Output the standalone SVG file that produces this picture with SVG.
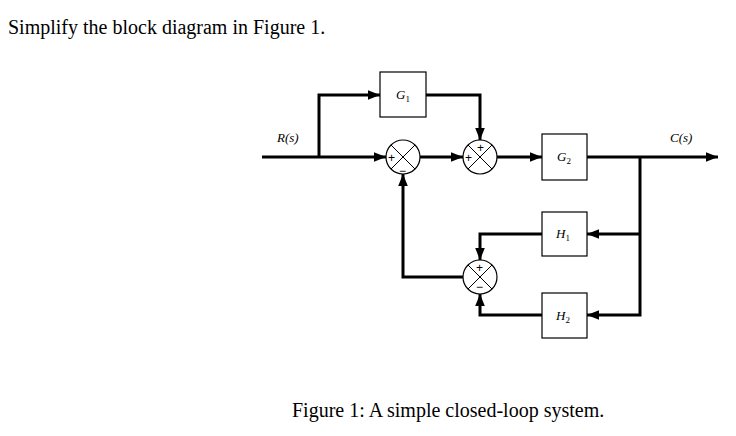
<svg xmlns="http://www.w3.org/2000/svg" width="736" height="436" viewBox="0 0 736 436">
<style>
.w{fill:none;stroke:#000;stroke-width:3}
.b{fill:#fff;stroke:#000;stroke-width:1.2}
.s{fill:#fff;stroke:#000;stroke-width:1.2}
.x{stroke:#000;stroke-width:1}
.t{font-family:"Liberation Serif",serif;fill:#000}
.l{font-family:"Liberation Serif",serif;font-style:italic;font-size:13px}
.p{font-family:"Liberation Sans",sans-serif;font-size:12px}
</style>
<defs><marker id="a" viewBox="0 0 10 10" refX="10" refY="5" markerWidth="5" markerHeight="4" orient="auto" markerUnits="strokeWidth"><path d="M0,1 L10,5 L0,9 Z"/></marker></defs>
<rect width="736" height="436" fill="#fff"/>
<text class="t" x="8" y="34" font-size="20">Simplify the block diagram in Figure 1.</text>
<text class="t" x="292" y="417" font-size="20">Figure 1: A simple closed-loop system.</text>
<g id="connectors">
<path class="w" d="M262,157 H386" marker-end="url(#a)"/>
<path class="w" d="M319,157 V95 H380" marker-end="url(#a)"/>
<path class="w" d="M426,95 H480 V140" marker-end="url(#a)"/>
<path class="w" d="M420,157 H463" marker-end="url(#a)"/>
<path class="w" d="M497,157 H542" marker-end="url(#a)"/>
<path class="w" d="M587,157 H718" marker-end="url(#a)"/>
<path class="w" d="M640,157 V315 H587" marker-end="url(#a)"/>
<path class="w" d="M640,234 H587" marker-end="url(#a)"/>
<path class="w" d="M542,234 H480 V260" marker-end="url(#a)"/>
<path class="w" d="M542,315 H480 V294" marker-end="url(#a)"/>
<path class="w" d="M463,277 H403 V174" marker-end="url(#a)"/>
</g>
<text class="l" x="277" y="142">R(s)</text>
<text class="l" x="670" y="142">C(s)</text>
<g id="G1"><rect class="b" x="380" y="72" width="46" height="45"/><text class="l" x="396" y="99">G<tspan font-size="9" font-style="normal" dy="3">1</tspan></text></g>
<g id="G2"><rect class="b" x="542" y="134" width="45" height="46"/><text class="l" x="557" y="161">G<tspan font-size="9" font-style="normal" dy="3">2</tspan></text></g>
<g id="H1"><rect class="b" x="542" y="212" width="45" height="44"/><text class="l" x="556" y="238">H<tspan font-size="9" font-style="normal" dy="3">1</tspan></text></g>
<g id="H2"><rect class="b" x="542" y="293" width="45" height="45"/><text class="l" x="556" y="320">H<tspan font-size="9" font-style="normal" dy="3">2</tspan></text></g>
<g id="sum1"><circle class="s" cx="403" cy="157" r="17"/><path class="x" d="M391,145 L415,169 M415,145 L391,169"/><text class="p" x="388" y="162">+</text><text class="p" x="399" y="175">−</text></g>
<g id="sum2"><circle class="s" cx="480" cy="157" r="17"/><path class="x" d="M468,145 L492,169 M492,145 L468,169"/><text class="p" x="465" y="162">+</text><text class="p" x="477" y="152">+</text></g>
<g id="sum3"><circle class="s" cx="480" cy="277" r="17"/><path class="x" d="M468,265 L492,289 M492,265 L468,289"/><text class="p" x="476" y="272">+</text><text class="p" x="476" y="291">−</text></g>
</svg>
